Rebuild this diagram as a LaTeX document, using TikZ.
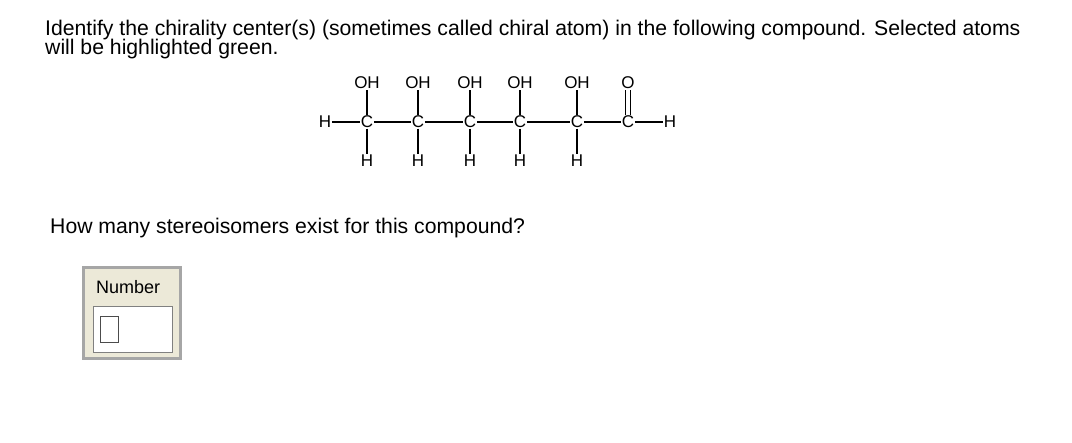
\documentclass[tikz,border=0pt]{standalone}
\usepackage{fontspec}
\setmainfont{Liberation Sans}
\begin{document}
\begin{tikzpicture}[x=1pt,y=-1pt,
  atom/.style={inner sep=0.5pt,font=\fontsize{17}{17}\selectfont},
  bond/.style={line width=1.5pt},
  txt/.style={anchor=west,inner sep=0pt,font=\fontsize{21.2}{21}\selectfont}]
\useasboundingbox (0,0) rectangle (1072,443);
\node[txt] (t1) at (45,30) {Identify the chirality center(s) (sometimes called chiral atom) in the following compound. Selected atoms};
\node[txt] (t2) at (45,49) {will be highlighted green.};
\foreach \i/\x in {1/367,2/418,3/470,4/520,5/577}{
  \node[atom] (c\i) at (\x,122) {C};
  \node[atom] (o\i) at (\x,83) {OH};
  \node[atom] (h\i) at (\x,161) {H};
  \draw[bond] (c\i) -- (o\i.south-|c\i);
  \draw[bond] (c\i) -- (h\i);
}
\node[atom] (c6) at (628,122) {C};
\node[atom] (o6) at (628,83) {O};
\node[atom] (hl) at (325,122) {H};
\node[atom] (hr) at (670,122) {H};
\draw[bond] ([xshift=-2.5pt]c6.north) -- ([xshift=-2.5pt]o6.south);
\draw[bond] ([xshift=2.5pt]c6.north) -- ([xshift=2.5pt]o6.south);
\draw[bond] (hl) -- (c1);
\draw[bond] (c1) -- (c2); \draw[bond] (c2) -- (c3); \draw[bond] (c3) -- (c4);
\draw[bond] (c4) -- (c5); \draw[bond] (c5) -- (c6); \draw[bond] (c6) -- (hr);
\node[txt] (q) at (50,228) {How many stereoisomers exist for this compound?};
\node[draw=gray!70,line width=3pt,fill={rgb,255:red,236;green,233;blue,216},minimum width=97pt,minimum height=91pt] (box) at (132,313) {};
\node[anchor=west,inner sep=0pt,font=\fontsize{18}{18}\selectfont] (lab) at (96,287) {Number};
\node[draw=gray,line width=1pt,fill=white,minimum width=79pt,minimum height=46pt] (field) at (132.5,330) {};
\node[draw=black!70,line width=0.8pt,minimum width=18pt,minimum height=26pt,inner sep=0pt] (cur) at (109,329) {};
\end{tikzpicture}
\end{document}
